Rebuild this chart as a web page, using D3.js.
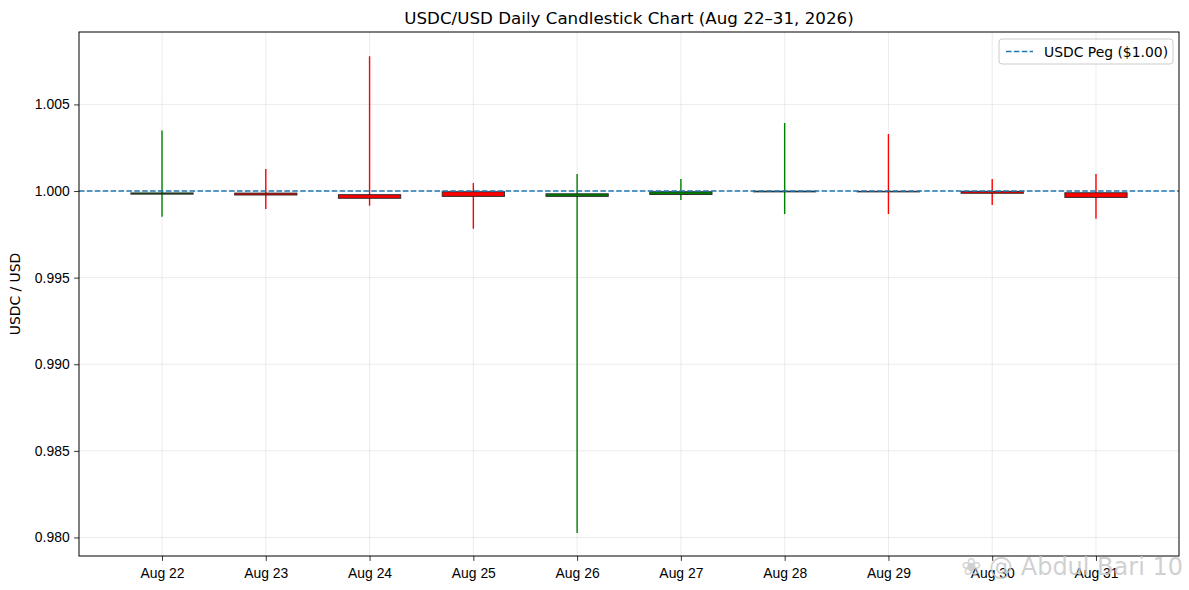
<!DOCTYPE html>
<html>
<head>
<meta charset="utf-8">
<script src="https://cdn.jsdelivr.net/npm/d3@7"></script>
<style>
  body { margin: 0; background: #fff; }
  svg { font-family: "DejaVu Sans", sans-serif; }
</style>
</head>
<body>
<svg id="chart" width="1189" height="590"></svg>
<script>
// daily candles
const days = ["Aug 22", "Aug 23", "Aug 24", "Aug 25", "Aug 26", "Aug 27", "Aug 28", "Aug 29", "Aug 30", "Aug 31"];
const openV  = [0.99982, 0.99988, 0.99979, 0.99996, 0.99969, 0.99980, 0.99995, 0.99998, 0.99998, 0.99990];
const highV  = [1.00349, 1.00127, 1.00778, 1.00046, 1.00098, 1.00070, 1.00393, 1.00329, 1.00070, 1.00098];
const lowV   = [0.99851, 0.99896, 0.99915, 0.99782, 0.98026, 0.99948, 0.99867, 0.99867, 0.99919, 0.99840];
const closeV = [0.99989, 0.99977, 0.99958, 0.99969, 0.99984, 0.99996, 0.99999, 0.99995, 0.99987, 0.99963];
const yTicks = [0.980, 0.985, 0.990, 0.995, 1.000, 1.005];
const peg = 1.0;

const svg = d3.select("#chart");
const m = {left: 79, top: 32, right: 1179, bottom: 556};

const x = d3.scaleLinear().domain([-0.8, 9.8]).range([m.left, m.right]);
const y = d3.scaleLinear().domain([0.97893, 1.00918]).range([m.bottom, m.top]);

// grid
const grid = svg.append("g").attr("stroke", "#b0b0b0").attr("stroke-opacity", 0.3).attr("stroke-width", 0.8);
days.forEach((d, i) => {
  grid.append("line").attr("x1", x(i)).attr("x2", x(i)).attr("y1", m.top).attr("y2", m.bottom);
});
yTicks.forEach(t => {
  grid.append("line").attr("x1", m.left).attr("x2", m.right).attr("y1", y(t)).attr("y2", y(t));
});

// candles
const candles = days.map((d, i) => ({day: d, i: i, o: openV[i], h: highV[i], l: lowV[i], c: closeV[i]}));
const col = d => d.c >= d.o ? "#008000" : "#ff0000";

svg.append("g").selectAll("line")
  .data(candles)
  .enter()
  .append("line")
  .attr("x1", d => x(d.i)).attr("x2", d => x(d.i))
  .attr("y1", d => y(d.h)).attr("y2", d => y(d.l))
  .attr("stroke", col)
  .attr("stroke-width", 1.4);

const bw = x(0.3) - x(0);
svg.append("g").selectAll("rect")
  .data(candles)
  .enter()
  .append("rect")
  .attr("x", d => x(d.i) - bw)
  .attr("width", bw * 2)
  .attr("y", d => y(Math.max(d.o, d.c)))
  .attr("height", d => Math.max(0.01, Math.abs(y(d.o) - y(d.c))))
  .attr("fill", col)
  .attr("stroke", "#222")
  .attr("stroke-opacity", 0.9)
  .attr("stroke-width", 1);

// peg line
svg.append("line")
  .attr("x1", m.left).attr("x2", m.right)
  .attr("y1", y(peg)).attr("y2", y(peg))
  .attr("stroke", "#1f77b4").attr("stroke-width", 1.4)
  .attr("stroke-dasharray", "5.5,2.4");

// axes
const xAxis = d3.axisBottom(x).tickValues(d3.range(days.length)).tickFormat(i => days[i]).tickSize(4.9).tickPadding(4.5);
const yAxis = d3.axisLeft(y).tickValues(yTicks).tickFormat(d3.format(".3f")).tickSize(4.9).tickPadding(4.5);

const gx = svg.append("g").attr("transform", `translate(0,${m.bottom})`).call(xAxis);
const gy = svg.append("g").attr("transform", `translate(${m.left},0)`).call(yAxis);
[gx, gy].forEach(g => {
  g.select(".domain").remove();
  g.selectAll("text").attr("font-size", "13.9px").attr("fill", "#000");
  g.selectAll("line").attr("stroke", "#000").attr("stroke-width", 0.8);
});
gx.selectAll("text").attr("dy", "0.9em");

svg.append("rect")
  .attr("x", m.left).attr("y", m.top)
  .attr("width", m.right - m.left).attr("height", m.bottom - m.top)
  .attr("fill", "none").attr("stroke", "#000").attr("stroke-width", 1);

// labels
svg.append("text")
  .attr("x", (m.left + m.right) / 2).attr("y", 24)
  .attr("text-anchor", "middle").attr("font-size", "16.7px")
  .text("USDC/USD Daily Candlestick Chart (Aug 22\u201331, 2026)");

svg.append("text")
  .attr("transform", `translate(20,${(m.top + m.bottom) / 2}) rotate(-90)`)
  .attr("text-anchor", "middle").attr("font-size", "13.9px")
  .text("USDC / USD");

// legend
const lg = svg.append("g");
lg.append("rect")
  .attr("x", 999).attr("y", 39).attr("width", 174).attr("height", 25).attr("rx", 3)
  .attr("fill", "#fff").attr("fill-opacity", 0.8).attr("stroke", "#ccc").attr("stroke-width", 1);
lg.append("line")
  .attr("x1", 1006).attr("x2", 1033).attr("y1", 51.5).attr("y2", 51.5)
  .attr("stroke", "#1f77b4").attr("stroke-width", 1.4).attr("stroke-dasharray", "5.5,2.4");
lg.append("text")
  .attr("x", 1044).attr("y", 56.5).attr("font-size", "13.9px")
  .text("USDC Peg ($1.00)");

// watermark (overlaps the last tick labels, as in the source)
svg.append("text")
  .attr("x", 1183).attr("y", 575).attr("text-anchor", "end")
  .attr("font-size", "24px").attr("fill", "#c8c8c8").attr("fill-opacity", 0.85)
  .text("\u2740 @ Abdul Bari 10");
</script>
</body>
</html>
